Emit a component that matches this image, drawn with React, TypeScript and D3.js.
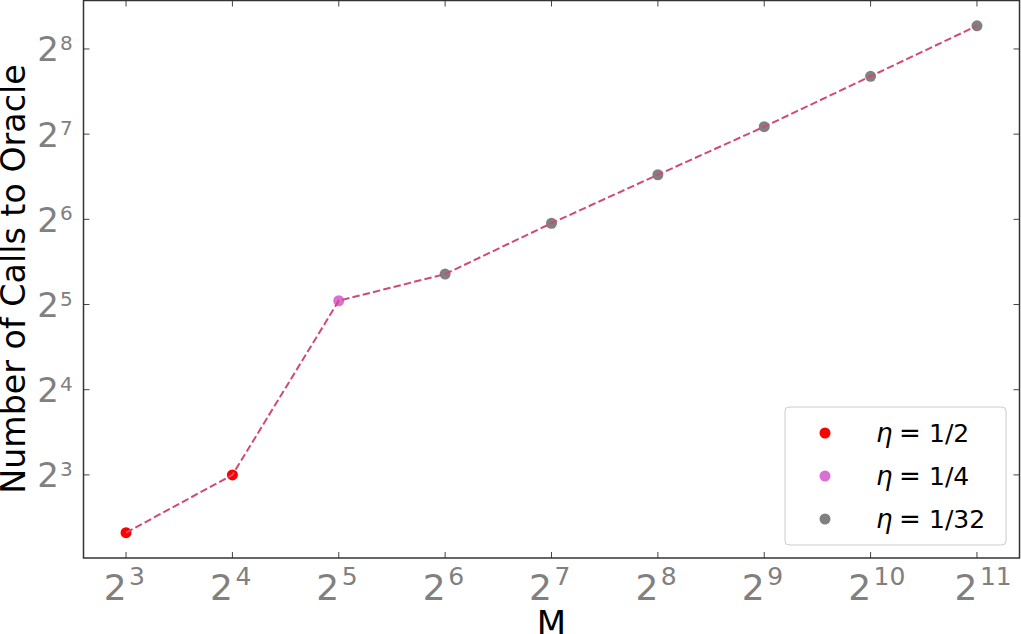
import * as d3 from 'd3';

// Data: M on x, number of calls to the oracle on y (both log2)
const mValues = [8, 16, 32, 64, 128, 256, 512, 1024, 2048];
const oracleCalls = [5, 8, 33, 41, 62, 92, 136, 205, 309];
const pointEta = ['1/2', '1/2', '1/4', '1/32', '1/32', '1/32', '1/32', '1/32', '1/32'];
const etaGroups = ['1/2', '1/4', '1/32'];
const xTickExps = [3, 4, 5, 6, 7, 8, 9, 10, 11];
const yTickExps = [3, 4, 5, 6, 7, 8];

const etaColor: Record<string, string> = {
  '1/2': '#ff0000',
  '1/4': '#da70d6',
  '1/32': '#808080',
};

const W = 1021;
const H = 634;
const margin = { top: 0.5, right: 1.5, bottom: 76, left: 83.5 };
const font = '"DejaVu Sans", sans-serif';
const tickGray = '#808080';

export default function App() {
  const innerW = W - margin.left - margin.right;
  const innerH = H - margin.top - margin.bottom;

  // matplotlib-style 5% padding in log space
  const lx = d3.extent(mValues.map(Math.log2)) as [number, number];
  const ly = d3.extent(oracleCalls.map(Math.log2)) as [number, number];
  const px = (lx[1] - lx[0]) * 0.05;
  const py = (ly[1] - ly[0]) * 0.05;

  const x = d3.scaleLog().base(2)
    .domain([2 ** (lx[0] - px), 2 ** (lx[1] + px)])
    .range([0, innerW]);
  const y = d3.scaleLog().base(2)
    .domain([2 ** (ly[0] - py), 2 ** (ly[1] + py)])
    .range([innerH, 0]);

  const pts = mValues.map((m, i) => ({ m, v: oracleCalls[i], eta: pointEta[i] }));
  const line = d3.line<{ m: number; v: number }>()
    .x(d => x(d.m))
    .y(d => y(d.v));

  const tickLen = 6;

  return (
    <svg width={W} height={H} style={{ position: 'absolute', left: 0, top: 0, background: '#fff' }}
      fontFamily={font}>
      <g transform={`translate(${margin.left},${margin.top})`}>
        {/* points */}
        {pts.map((d, i) => (
          <circle key={i} cx={x(d.m)} cy={y(d.v)} r={5.5} fill={etaColor[d.eta]} />
        ))}
        {/* dashed connecting line */}
        <path d={line(pts) ?? ''} fill="none" stroke="#cf4a78" strokeWidth={2}
          strokeDasharray="7.4 3.2" />

        {/* ticks, inward on all four sides */}
        {xTickExps.map(e => {
          const tx = x(2 ** e);
          return (
            <g key={`xt${e}`} stroke="#444" strokeWidth={1}>
              <line x1={tx} x2={tx} y1={innerH} y2={innerH - tickLen} />
              <line x1={tx} x2={tx} y1={0} y2={tickLen} />
            </g>
          );
        })}
        {yTickExps.map(e => {
          const ty = y(2 ** e);
          return (
            <g key={`yt${e}`} stroke="#444" strokeWidth={1}>
              <line x1={0} x2={tickLen} y1={ty} y2={ty} />
              <line x1={innerW} x2={innerW - tickLen} y1={ty} y2={ty} />
            </g>
          );
        })}

        {/* spines */}
        <rect x={0} y={0} width={innerW} height={innerH} fill="none" stroke="#333" strokeWidth={1.5} />

        {/* x tick labels */}
        {xTickExps.map(e => {
          const tx = x(2 ** e);
          return (
            <g key={`xl${e}`} fill={tickGray}>
              <text x={tx + 0.5} y={innerH + 42} fontSize={36} textAnchor="end">2</text>
              <text x={tx + 3} y={innerH + 27} fontSize={25}>{e}</text>
            </g>
          );
        })}
        {/* y tick labels */}
        {yTickExps.map(e => {
          const ty = y(2 ** e);
          return (
            <g key={`yl${e}`} fill={tickGray}>
              <text x={-24.5} y={ty + 12.5} fontSize={34} textAnchor="end">2</text>
              <text x={-23.5} y={ty + 1} fontSize={20}>{e}</text>
            </g>
          );
        })}

        {/* legend */}
        <g transform={`translate(${785 - margin.left},${407 - margin.top})`}>
          <rect x={0} y={0} width={221} height={138} rx={4} fill="#fff" fillOpacity={0.8}
            stroke="#cccccc" strokeWidth={1} />
          {etaGroups.map((g, i) => (
            <g key={g} transform={`translate(0,${26 + i * 43})`} fill="#000">
              <circle cx={40} cy={0} r={5.5} fill={etaColor[g]} />
              <text x={91} y={9} fontSize={26} fontStyle="italic">η</text>
              <text x={114} y={9} fontSize={26}>=</text>
              <text x={144} y={9} fontSize={25}>{g}</text>
            </g>
          ))}
        </g>

        {/* axis titles */}
        <text x={innerW / 2} y={innerH + 76.5} fontSize={34} textAnchor="middle" fill="#000">M</text>
        <text transform={`translate(${25 - margin.left},${279 - margin.top}) rotate(-90)`}
          fontSize={33.3} textAnchor="middle" fill="#000">Number of Calls to Oracle</text>
      </g>
    </svg>
  );
}
